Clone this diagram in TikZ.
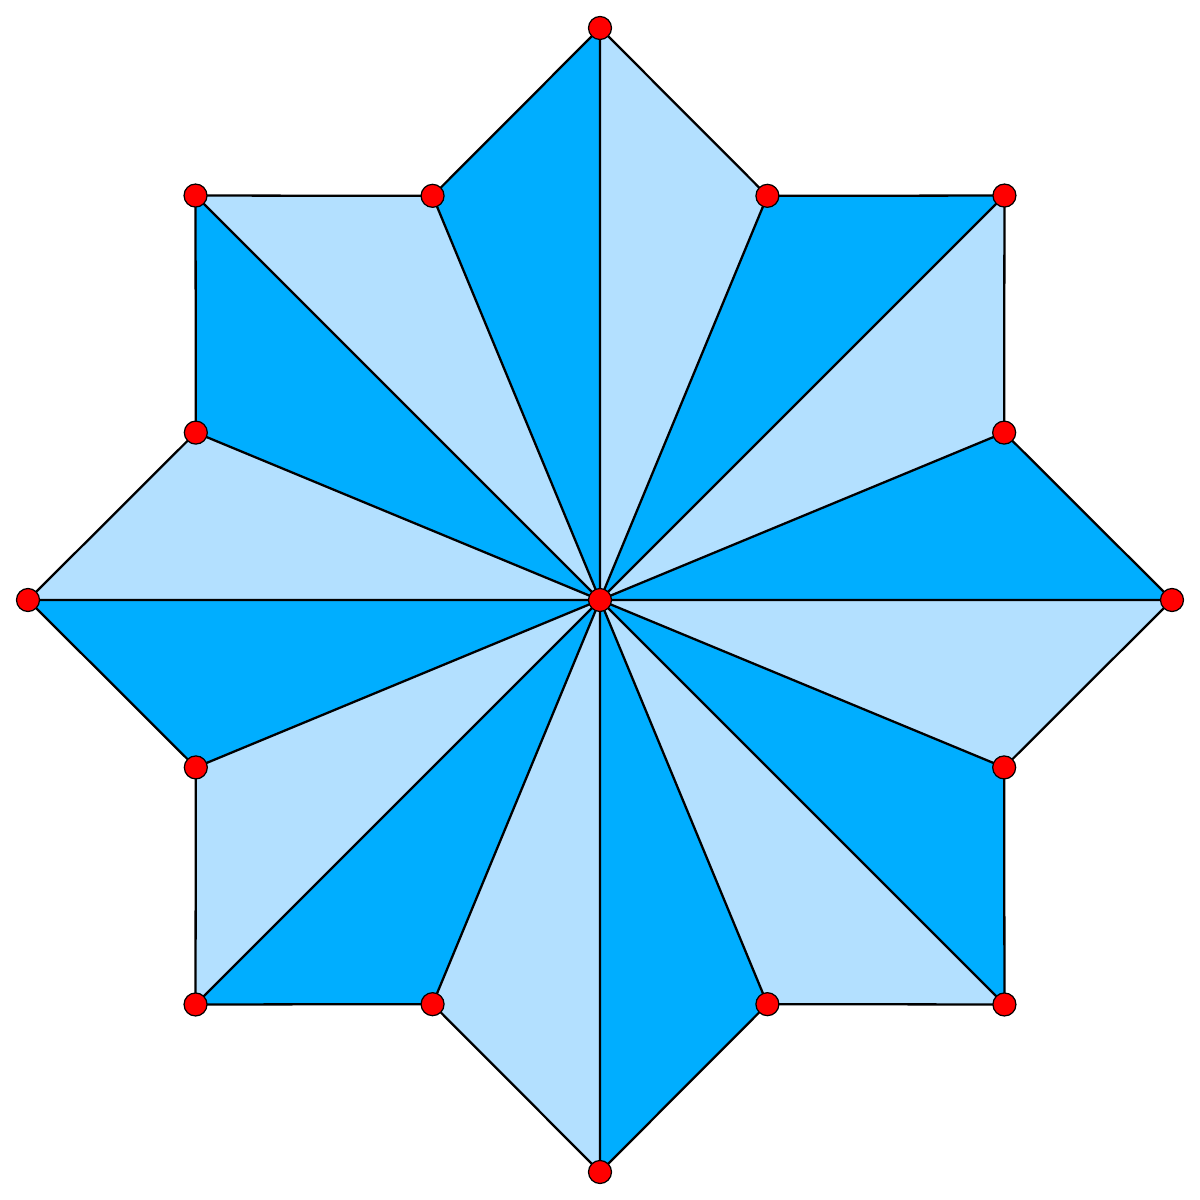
\documentclass[tikz,border=0pt]{standalone}
\usepackage{tikz}
\definecolor{deepsky}{RGB}{0,174,255}
\definecolor{palesky}{RGB}{179,224,255}
\tikzstyle{vertex}=[circle, draw, fill=red, line width=0.35pt, inner sep=0pt, minimum size=0.23cm]
\tikzstyle{rib}=[draw, line width=0.65pt]
\newcommand{\vertex}{\node[vertex]}

\begin{document}
\begin{tikzpicture}[x=1cm, y=1cm]
    \useasboundingbox (-6,-6) rectangle (6,6);
    \coordinate (c) at (0,0);
    % tips at 45k, inner corners at 22.5+45k
    \foreach \k in {0,...,15}{
        \pgfmathsetmacro{\rad}{mod(\k,2)==0 ? 5.72 : 4.375}
        \coordinate (p\k) at (\k*22.5:\rad);
    }
    % triangles round the centre
    \foreach \k [evaluate=\k as \j using {int(mod(\k+1,16))}] in {0,...,15}{
        \pgfmathtruncatemacro{\odd}{mod(\k,2)}
        \ifnum\odd=0
            \fill[deepsky] (c) -- (p\k) -- (p\j) -- cycle;
        \else
            \fill[palesky] (c) -- (p\k) -- (p\j) -- cycle;
        \fi
    }
    \foreach \k [evaluate=\k as \j using {int(mod(\k+1,16))}] in {0,...,15}{
        \path[rib] (c) -- (p\k) (p\k) -- (p\j);
    }
    \foreach \k in {0,...,15}
        \vertex (v\k) at (p\k) {};
    \vertex (v) at (c) {};
\end{tikzpicture}
\end{document}
